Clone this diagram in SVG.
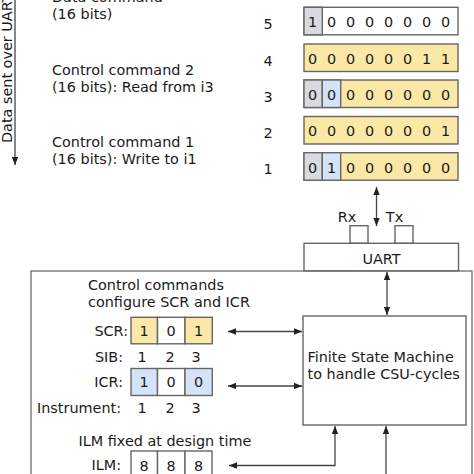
<svg xmlns="http://www.w3.org/2000/svg" width="474" height="474" viewBox="0 0 474 474">
<defs>
<style>
text{font-family:"DejaVu Sans","Noto Sans",sans-serif;font-size:14.4px;fill:#1a1a1a}
.c{text-anchor:middle}
.e{text-anchor:end}
.box{fill:#fff;stroke:#666;stroke-width:1.4}
.y{fill:#fce8a6;stroke:#666;stroke-width:1.4}
.b{fill:#d5e3f8;stroke:#666;stroke-width:1.4}
.g{fill:#d8dadd;stroke:#666;stroke-width:1.4}
.ln{fill:none;stroke:#444;stroke-width:1.3}
</style>
<marker id="ah" viewBox="0 0 10 8" refX="10" refY="4" markerWidth="8" markerHeight="6.4" markerUnits="userSpaceOnUse" orient="auto-start-reverse">
<path d="M0,0 L10,4 L0,8 Z" fill="#222"/>
</marker>
</defs>
<rect width="474" height="474" fill="#fff"/>

<g id="left-labels">
<text x="0" y="0" transform="translate(12,143) rotate(-90)">Data sent over UART</text>
<text x="52" y="2">Data command</text>
<text x="52" y="19">(16 bits)</text>
<text x="52" y="75">Control command 2</text>
<text x="52" y="92">(16 bits): Read from i3</text>
<text x="52" y="147">Control command 1</text>
<text x="52" y="164">(16 bits): Write to i1</text>
</g>

<g id="row5">
<text class="c" x="268" y="29">5</text>
<rect class="box" x="304" y="7.3" width="154" height="27.5"/>
<rect class="g" x="304" y="7.3" width="18.3" height="27.5"/>
<text class="c" x="312.5" y="27">1</text><text class="c" x="331.5" y="27">0</text><text class="c" x="350.5" y="27">0</text><text class="c" x="369.5" y="27">0</text><text class="c" x="388.5" y="27">0</text><text class="c" x="407.5" y="27">0</text><text class="c" x="426.5" y="27">0</text><text class="c" x="445.5" y="27">0</text>
</g>
<g id="row4">
<text class="c" x="268" y="65.5">4</text>
<rect class="y" x="304" y="44" width="154" height="27.5"/>
<text class="c" x="312.5" y="63.5">0</text><text class="c" x="331.5" y="63.5">0</text><text class="c" x="350.5" y="63.5">0</text><text class="c" x="369.5" y="63.5">0</text><text class="c" x="388.5" y="63.5">0</text><text class="c" x="407.5" y="63.5">0</text><text class="c" x="426.5" y="63.5">1</text><text class="c" x="445.5" y="63.5">1</text>
</g>
<g id="row3">
<text class="c" x="268" y="101.5">3</text>
<rect class="y" x="304" y="80" width="154" height="27.5"/>
<rect class="g" x="304" y="80" width="18.3" height="27.5"/>
<rect class="b" x="322.3" y="80" width="18.4" height="27.5"/>
<text class="c" x="312.5" y="99.5">0</text><text class="c" x="331.5" y="99.5">0</text><text class="c" x="350.5" y="99.5">0</text><text class="c" x="369.5" y="99.5">0</text><text class="c" x="388.5" y="99.5">0</text><text class="c" x="407.5" y="99.5">0</text><text class="c" x="426.5" y="99.5">0</text><text class="c" x="445.5" y="99.5">0</text>
</g>
<g id="row2">
<text class="c" x="268" y="138">2</text>
<rect class="y" x="304" y="116.5" width="154" height="27.5"/>
<text class="c" x="312.5" y="136">0</text><text class="c" x="331.5" y="136">0</text><text class="c" x="350.5" y="136">0</text><text class="c" x="369.5" y="136">0</text><text class="c" x="388.5" y="136">0</text><text class="c" x="407.5" y="136">0</text><text class="c" x="426.5" y="136">0</text><text class="c" x="445.5" y="136">1</text>
</g>
<g id="row1">
<text class="c" x="268" y="174">1</text>
<rect class="y" x="304" y="152.7" width="154" height="27.5"/>
<rect class="g" x="304" y="152.7" width="18.3" height="27.5"/>
<rect class="b" x="322.3" y="152.7" width="18.4" height="27.5"/>
<text class="c" x="312.5" y="172.5">0</text><text class="c" x="331.5" y="172.5">1</text><text class="c" x="350.5" y="172.5">0</text><text class="c" x="369.5" y="172.5">0</text><text class="c" x="388.5" y="172.5">0</text><text class="c" x="407.5" y="172.5">0</text><text class="c" x="426.5" y="172.5">0</text><text class="c" x="445.5" y="172.5">0</text>
</g>

<g id="outer">
<rect class="box" x="31" y="271" width="441" height="220" style="stroke:#777"/>
</g>

<g id="uart">
<rect class="box" x="350" y="225.7" width="18" height="17.6"/>
<rect class="box" x="395" y="225.7" width="18" height="17.6"/>
<text class="c" x="347" y="222">Rx</text>
<text class="c" x="394.5" y="222">Tx</text>
<rect class="box" x="304" y="243.3" width="154.5" height="27.5"/>
<text class="c" x="381.5" y="263.5">UART</text>
</g>

<g id="fsm">
<rect class="box" x="303" y="316" width="163" height="109"/>
<text x="307.5" y="361.5">Finite State Machine</text>
<text x="307.5" y="379">to handle CSU-cycles</text>
</g>

<g id="config">
<text x="88" y="290">Control commands</text>
<text x="88" y="306.5">configure SCR and ICR</text>
</g>

<g id="scr">
<text class="e" x="128" y="335.5">SCR:</text>
<rect class="y" x="131" y="317.3" width="26.5" height="26.5"/>
<rect class="box" x="157.5" y="317.3" width="27.5" height="26.5"/>
<rect class="y" x="185" y="317.3" width="27.3" height="26.5"/>
<text class="c" x="144" y="335.5">1</text><text class="c" x="171" y="335.5">0</text><text class="c" x="198.5" y="335.5">1</text>
</g>
<g id="sib">
<text class="e" x="123" y="362">SIB:</text>
<text class="c" x="142" y="362">1</text><text class="c" x="170" y="362">2</text><text class="c" x="196" y="362">3</text>
</g>
<g id="icr">
<text class="e" x="123" y="387">ICR:</text>
<rect class="b" x="131" y="368.5" width="26.5" height="27"/>
<rect class="box" x="157.5" y="368.5" width="27.5" height="27"/>
<rect class="b" x="185" y="368.5" width="27.3" height="27"/>
<text class="c" x="144" y="387">1</text><text class="c" x="171" y="387">0</text><text class="c" x="198.5" y="387">0</text>
</g>
<g id="instrument">
<text class="e" x="121" y="413">Instrument:</text>
<text class="c" x="142" y="413">1</text><text class="c" x="170" y="413">2</text><text class="c" x="196" y="413">3</text>
</g>
<g id="ilm">
<text x="78.5" y="446">ILM fixed at design time</text>
<text class="e" x="121" y="470">ILM:</text>
<rect class="box" x="131" y="451" width="26.5" height="30"/>
<rect class="box" x="157.5" y="451" width="27.5" height="30"/>
<rect class="box" x="185" y="451" width="27" height="30"/>
<text class="c" x="144" y="470.5">8</text><text class="c" x="171" y="470.5">8</text><text class="c" x="198.5" y="470.5">8</text>
</g>

<g id="connectors">
<path class="ln" d="M15,0 V165" marker-end="url(#ah)"/>
<path class="ln" d="M376.5,187 V226" marker-start="url(#ah)" marker-end="url(#ah)"/>
<path class="ln" d="M387,272 V315" marker-start="url(#ah)" marker-end="url(#ah)"/>
<path class="ln" d="M228,331.5 H302" marker-start="url(#ah)" marker-end="url(#ah)"/>
<path class="ln" d="M228,386 H302" marker-start="url(#ah)" marker-end="url(#ah)"/>
<path class="ln" d="M335,426 V465.5 H229" marker-start="url(#ah)" marker-end="url(#ah)"/>
<path class="ln" d="M386,474 V426" marker-end="url(#ah)"/>
</g>
</svg>
